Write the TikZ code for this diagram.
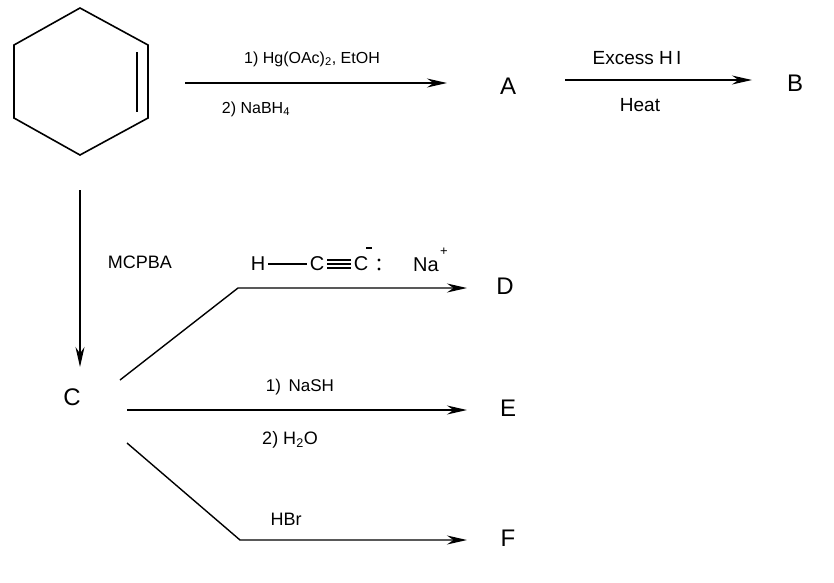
\documentclass[tikz,border=0pt]{standalone}
\usepackage{fontspec}
\setmainfont{Liberation Sans}
\usetikzlibrary{arrows.meta}
\begin{document}
\begin{tikzpicture}[x=1pt,y=-1pt,line width=1.6pt,
  rx/.style={-{Stealth[length=20pt,width=9pt]},line width=1.4pt},
  lab/.style={font=\fontsize{16}{18}\selectfont,inner sep=0pt},
  big/.style={font=\fontsize{24}{26}\selectfont,inner sep=0pt}]
\useasboundingbox (0,0) rectangle (834,582);
% cyclohexene
\draw (80,8) -- (148,45) -- (148,118) -- (80,155) -- (14,118) -- (14,45) -- cycle;
\draw (137,52) -- (137,112);
% to A
\coordinate (a1) at (185,83); \coordinate (a2) at (447,83);
\draw[rx] (a1) -- (a2);
\node[lab] (l1) at (312,59) {1) Hg(OAc)\textsubscript{2}, EtOH};
\node[lab] (l2) at (256,109) {2) NaBH\textsubscript{4}};
\node[big] (A) at (508,86) {A};
% to B
\coordinate (b1) at (565,80); \coordinate (b2) at (752,80);
\draw[rx] (b1) -- (b2);
\node[lab,font=\fontsize{19}{21}\selectfont] (l3) at (637,58) {Excess H\,I};
\node[lab,font=\fontsize{19}{21}\selectfont] (l4) at (640,105) {Heat};
\node[big] (B) at (795,83) {B};
% down to C
\coordinate (c1) at (80,190); \coordinate (c2) at (80,367);
\draw[rx] (c1) -- (c2);
\node[lab,font=\fontsize{18}{20}\selectfont] (m) at (140,262) {MCPBA};
\node[big] (C) at (72,397) {C};
% D
\coordinate (d0) at (120,380); \coordinate (d1) at (238,288); \coordinate (d2) at (467,288);
\draw[rx] (d0) -- (d1) -- (d2);
\node[lab,font=\fontsize{20}{22}\selectfont] (h) at (258,264) {H};
\node[lab,font=\fontsize{20}{22}\selectfont] (c3) at (317,264) {C};
\node[lab,font=\fontsize{20}{22}\selectfont] (c4) at (361,264) {C};
\draw[line width=1.3pt] ([xshift=2]h.east) -- ([xshift=-2]c3.west);
\draw[line width=1.3pt] ([xshift=2,yshift=-4]c3.east) -- ([xshift=-2,yshift=-4]c4.west);
\draw[line width=1.3pt] ([xshift=2]c3.east) -- ([xshift=-2]c4.west);
\draw[line width=1.3pt] ([xshift=2,yshift=4]c3.east) -- ([xshift=-2,yshift=4]c4.west);
\fill (379,260) circle (1.6pt) (379,269) circle (1.6pt);
\draw[line width=1.3pt] (366,248) -- (372,248);
\node[lab,font=\fontsize{20}{22}\selectfont] (na) at (426,265) {Na};
\node[lab,font=\fontsize{13}{14}\selectfont] (pl) at (444,252) {+};
\node[big] (D) at (505,286) {D};
% E
\coordinate (e1) at (127,410); \coordinate (e2) at (467,410);
\draw[rx] (e1) -- (e2);
\node[lab,font=\fontsize{17}{19}\selectfont] (l5) at (300,387) {1)\, NaSH};
\node[lab,font=\fontsize{18}{20}\selectfont] (l6) at (290,440) {2) H\textsubscript{2}O};
\node[big] (E) at (508,408) {E};
% F
\coordinate (f0) at (127,443); \coordinate (f1) at (240,540); \coordinate (f2) at (467,540);
\draw[rx] (f0) -- (f1) -- (f2);
\node[lab,font=\fontsize{18}{20}\selectfont] (l7) at (286,519) {HBr};
\node[big] (F) at (508,538) {F};
\end{tikzpicture}
\end{document}
